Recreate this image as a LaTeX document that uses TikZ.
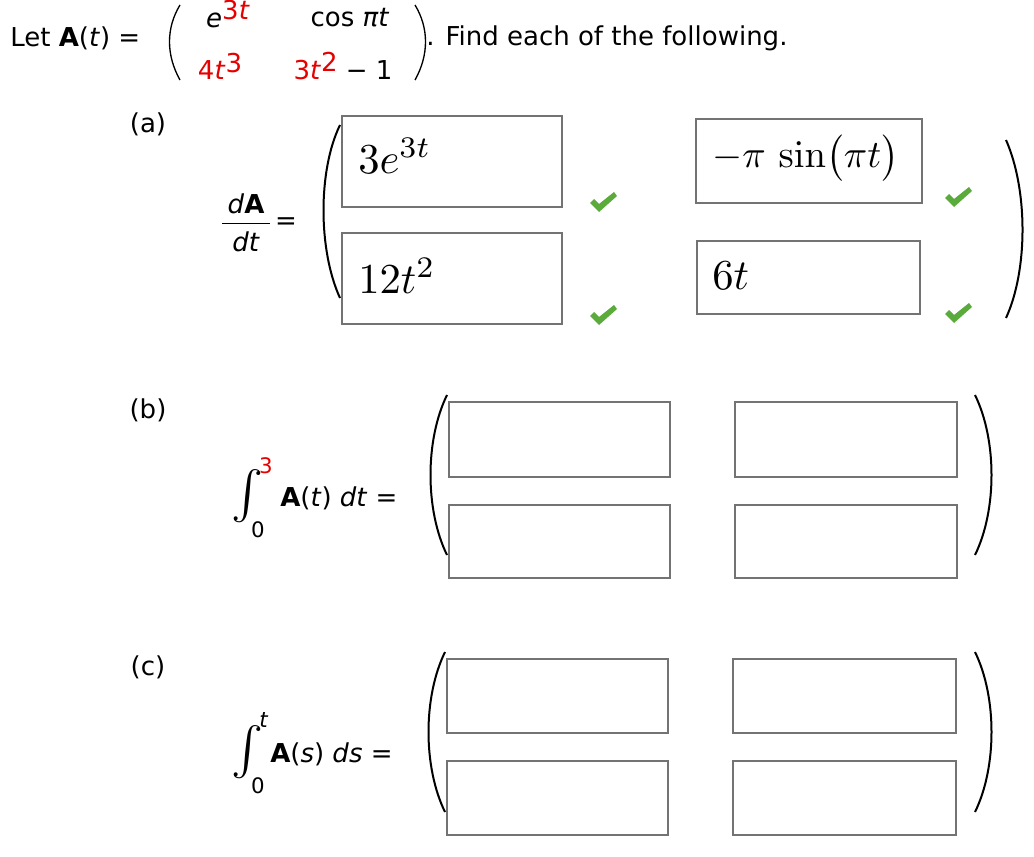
\documentclass[tikz,border=0pt]{standalone}
\usepackage{graphicx}
\usepackage[no-math]{fontspec}
\setmainfont{DejaVu Sans}
\begin{document}
\begin{tikzpicture}[x=0.75pt,y=-0.75pt,
  txt/.style={font=\fontsize{19.5}{22}\selectfont, inner sep=0pt},
  sml/.style={font=\fontsize{16}{18}\selectfont, inner sep=0pt},
  mth/.style={inner sep=0pt, anchor=west},
  ansbox/.style={draw=black!55, line width=1.2pt},
  paren/.style={line width=1.5pt}]
\useasboundingbox (0,0) rectangle (1034,856);
\definecolor{rd}{RGB}{230,0,0}
\definecolor{ck}{RGB}{90,170,60}
% header
\node[txt,anchor=west] (let) at (10,38) {Let \textbf{A}(\textit{t}) =};
\node[txt] (e) at (228,14) {\textit{e}\raisebox{0.5ex}{\textcolor{rd}{3\textit{t}}}};
\node[txt] (cos) at (350,18) {cos \textit{πt}};
\node[txt] (ft) at (220,66) {\textcolor{rd}{4\textit{t}\raisebox{0.5ex}{3}}};
\node[txt] (tt) at (343,66) {\textcolor{rd}{3\textit{t}\raisebox{0.5ex}{2}} − 1};
\draw[line width=1pt] (180,5) .. controls (166,28) and (166,55) .. (180,80);
\draw[line width=1pt] (415,5) .. controls (429,28) and (429,55) .. (415,80);
\node[txt,anchor=west] (find) at (426,38) {. Find each of the following.};
% (a)
\node[txt] (la) at (148,124) {(a)};
\node[txt] (dA) at (246,204) {\textit{d}\textbf{A}};
\node[txt] (dt) at (246,242) {\textit{dt}};
\draw (222,223) -- (270,223);
\node[txt] (eqa) at (286,224) {=};
\draw[paren] (340,125) .. controls (318,170) and (318,250) .. (340,298);
\draw[paren] (1006,140) .. controls (1028,190) and (1028,270) .. (1006,318);
\draw[ansbox] (342,116) rectangle (562,207);
\node[mth] (a1) at (358,156) {\scalebox{3.2}{$3e^{3t}$}};
\draw[ansbox] (696,119) rectangle (922,203);
\node[mth] (a2) at (712,158) {\scalebox{2.9}{$-\pi\,\sin\bigl(\pi t\bigr)$}};
\draw[ansbox] (342,233) rectangle (562,324);
\node[mth] (a3) at (358,276) {\scalebox{3.2}{$12t^2$}};
\draw[ansbox] (697,241) rectangle (920,314);
\node[mth] (a4) at (712,276) {\scalebox{3.2}{$6t$}};
\foreach \cx/\cy in {603/205,603/318,958/200,958/316}{
  \fill[ck] (\cx-13,\cy-2) -- (\cx-4,\cy+7) -- (\cx+14,\cy-9) -- (\cx+11,\cy-13) -- (\cx-4,\cy-1) -- (\cx-9,\cy-6) -- cycle;}
% (b)
\node[txt] (lb) at (148,410) {(b)};
\node[inner sep=0pt] (ib) at (247,496) {\scalebox{3.6}{$\int$}};
\node[sml] (ub) at (266,466) {\textcolor{rd}{3}};
\node[sml] (lob) at (258,530) {0};
\node[txt,anchor=west] (Ab) at (280,498) {\textbf{A}(\textit{t}) \textit{dt} =};
\draw[paren] (447,395) .. controls (425,440) and (425,510) .. (447,555);
\draw[paren] (975,395) .. controls (997,440) and (997,510) .. (975,555);
\draw[ansbox] (449,402) rectangle (670,477);
\draw[ansbox] (735,402) rectangle (957,477);
\draw[ansbox] (449,505) rectangle (670,578);
\draw[ansbox] (735,505) rectangle (957,578);
% (c)
\node[txt] (lc) at (148,667) {(c)};
\node[inner sep=0pt] (ic) at (247,752) {\scalebox{3.6}{$\int$}};
\node[sml] (uc) at (264,720) {\textit{t}};
\node[sml] (loc) at (258,786) {0};
\node[txt,anchor=west] (Ac) at (270,754) {\textbf{A}(\textit{s}) \textit{ds} =};
\draw[paren] (445,652) .. controls (423,697) and (423,767) .. (445,812);
\draw[paren] (975,652) .. controls (997,697) and (997,767) .. (975,812);
\draw[ansbox] (447,659) rectangle (668,733);
\draw[ansbox] (733,659) rectangle (956,733);
\draw[ansbox] (447,761) rectangle (668,835);
\draw[ansbox] (733,761) rectangle (956,835);
\end{tikzpicture}
\end{document}
